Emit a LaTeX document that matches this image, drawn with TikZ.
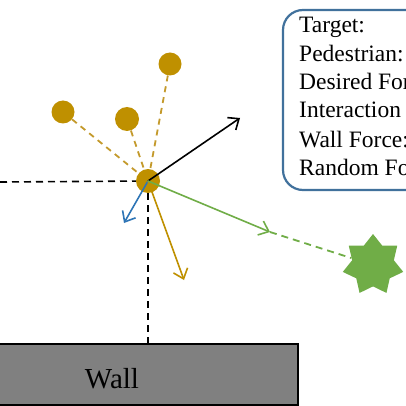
\documentclass[tikz,border=0pt]{standalone}
\usepackage{fontspec}
\setmainfont{Liberation Serif}
\usetikzlibrary{shapes.geometric,arrows.meta}
\definecolor{gold}{HTML}{BF9000}
\definecolor{golddash}{HTML}{C49A2C}
\definecolor{fblue}{HTML}{2E75B6}
\definecolor{fgreen}{HTML}{70AD47}
\definecolor{boxblue}{HTML}{41719C}
\definecolor{wallgray}{HTML}{808080}
\tikzset{
  ped/.style={circle,fill=gold,draw=none,minimum size=23pt,inner sep=0pt},
  tiparrow/.style={line width=1.6pt,-{Straight Barb[length=9pt,width=15pt,line width=1.6pt]}},
  blackdash/.style={line width=1.6pt,dash pattern=on 7pt off 5pt,black},
  golddashed/.style={line width=1.8pt,dash pattern=on 6pt off 5pt,golddash},
  legendtext/.style={anchor=base west,inner sep=0pt,font=\fontsize{23.5}{28}\selectfont},
}
\begin{document}
\begin{tikzpicture}[x=1pt,y=-1pt]
\useasboundingbox (0,0) rectangle (406,406);
\clip (0,0) rectangle (406,406);
\fill[white] (0,0) rectangle (406,406);
% legend box
\draw[boxblue,line width=2.2pt,rounded corners=20pt] (283,10) rectangle (480,190);
\node[legendtext] (l1) at (299,33) {Target:};
\node[legendtext] (l2) at (299,62) {Pedestrian:};
\node[legendtext] (l3) at (299,90) {Desired Force:};
\node[legendtext] (l4) at (299,118) {Interaction Force:};
\node[legendtext] (l5) at (299,147) {Wall Force:};
\node[legendtext] (l6) at (299,175) {Random Force:};
% wall
\node[draw=black,line width=1.8pt,fill=wallgray,minimum width=300pt,minimum height=61pt,inner sep=0pt,anchor=north west] (wall) at (-3,343) {};
\node[anchor=base,inner sep=0pt,font=\fontsize{29}{34}\selectfont] (walltext) at (112,388) {Wall};
% pedestrians
\node[ped] (p1) at (63,112) {};
\node[ped,minimum size=24pt] (p2) at (127,119) {};
\node[ped] (p3) at (170,64) {};
\coordinate (hl) at (0,182);
\coordinate (blk) at (240,118);
\coordinate (blu) at (124,223);
\coordinate (gld) at (184,280);
\coordinate (grn) at (270,232);
\node[star,star points=7,star point ratio=1.45,fill=fgreen,draw=none,minimum size=62pt,inner sep=0pt] (target) at (373,265) {};
\coordinate (p0c) at (148,181);
% dashed guides
\draw[blackdash] (hl) -- (p0c);
\draw[blackdash] (p0c) -- (wall.north -| p0c);
\draw[golddashed] (p1) -- (p0c);
\draw[golddashed] (p2) -- (p0c);
\draw[golddashed] (p3) -- (p0c);
\draw[fgreen,line width=1.8pt,dash pattern=on 7pt off 5pt] (grn) -- (target);
% main pedestrian
\node[ped,minimum size=24pt] (p0) at (p0c) {};
% forces
\draw[tiparrow,black] (p0.center) -- (blk);
\draw[tiparrow,fblue] (p0.center) -- (blu);
\draw[tiparrow,gold] (p0.center) -- (gld);
\draw[tiparrow,fgreen] (p0.center) -- (grn);
\end{tikzpicture}
\end{document}
